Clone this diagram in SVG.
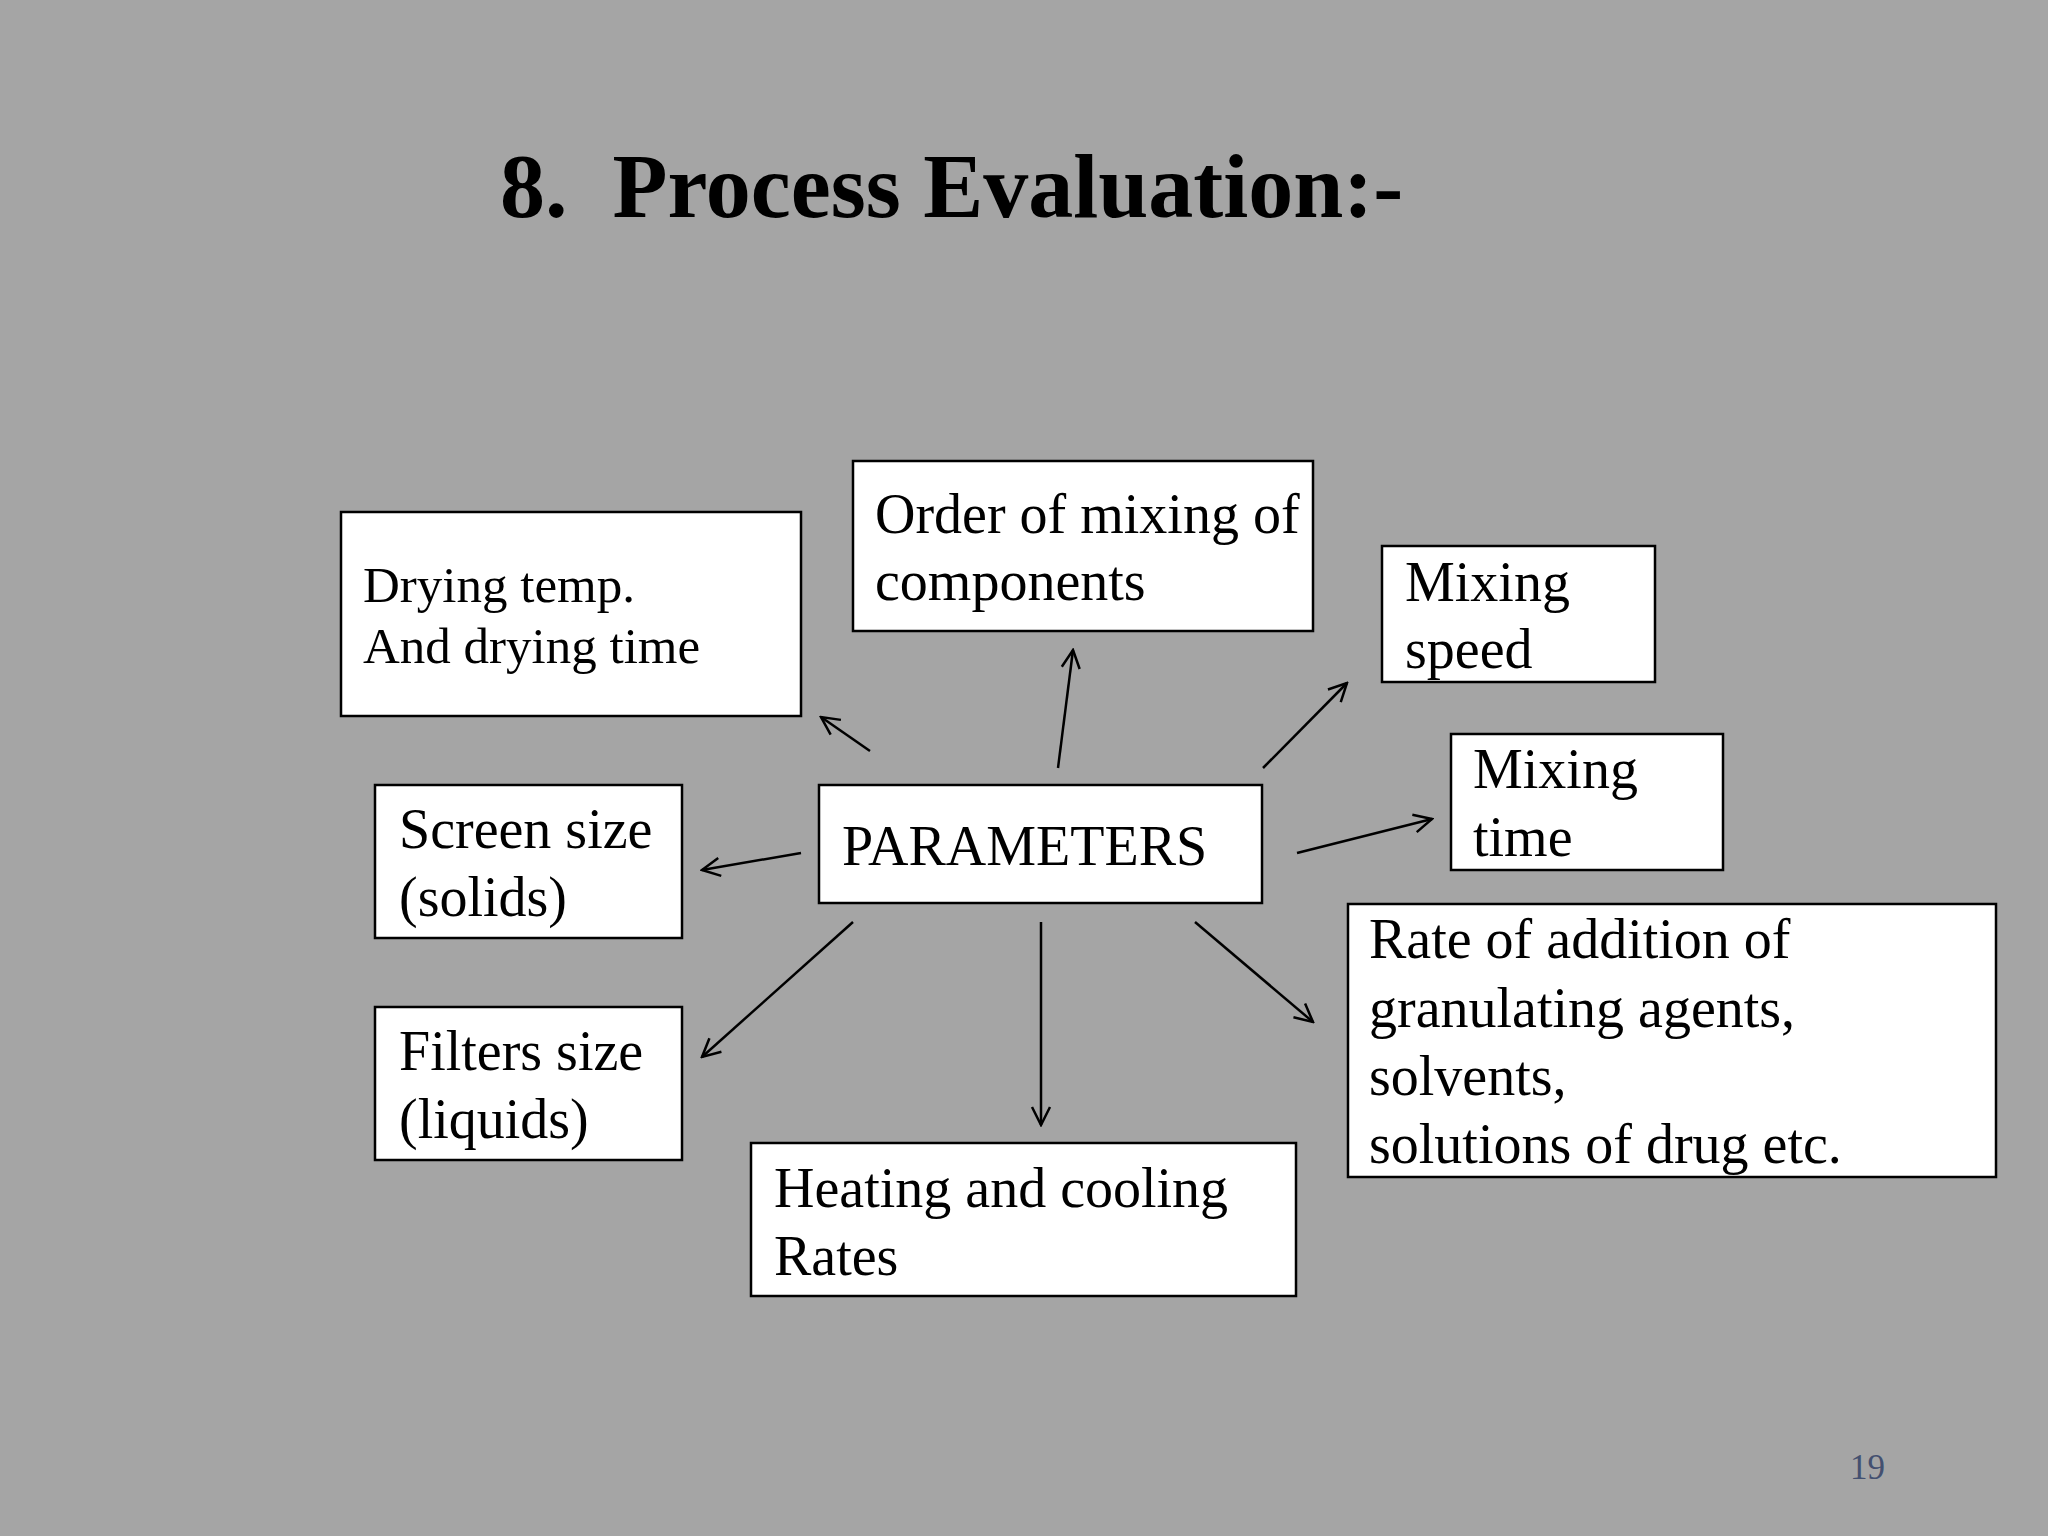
<svg xmlns="http://www.w3.org/2000/svg" width="2048" height="1536" viewBox="0 0 2048 1536">
<style>
.box{fill:#fff;stroke:#000;stroke-width:2.5}
.t{font-family:"Liberation Serif","Times New Roman",serif;font-size:56px;fill:#000}
.c{stroke:#000;stroke-width:2.5;fill:none}
</style>
<defs>
<marker id="ah" markerUnits="userSpaceOnUse" viewBox="0 0 24 24" refX="22" refY="12" markerWidth="24" markerHeight="24" orient="auto">
<path d="M4,3 L22,12 L4,21" fill="none" stroke="#000" stroke-width="2.5"/>
</marker>
</defs>
<rect width="2048" height="1536" fill="#a5a5a5"/>
<text x="500" y="217" font-family="'Liberation Serif','Times New Roman',serif" font-size="90" font-weight="bold" xml:space="preserve">8.  Process Evaluation:-</text>
<g id="drying"><rect class="box" x="341" y="512" width="460" height="204"/><text class="t" style="font-size:51px"><tspan x="363" y="602">Drying temp.</tspan><tspan x="363" y="663">And drying time</tspan></text></g>
<g id="order"><rect class="box" x="853" y="461" width="460" height="170"/><text class="t"><tspan x="875" y="533">Order of mixing of</tspan><tspan x="875" y="600">components</tspan></text></g>
<g id="speed"><rect class="box" x="1382" y="546" width="273" height="136"/><text class="t"><tspan x="1405" y="601">Mixing</tspan><tspan x="1405" y="668">speed</tspan></text></g>
<g id="mtime"><rect class="box" x="1451" y="734" width="272" height="136"/><text class="t"><tspan x="1473" y="788">Mixing</tspan><tspan x="1473" y="856">time</tspan></text></g>
<g id="params"><rect class="box" x="819" y="785" width="443" height="118"/><text class="t" x="842" y="865">PARAMETERS</text></g>
<g id="screen"><rect class="box" x="375" y="785" width="307" height="153"/><text class="t"><tspan x="399" y="848">Screen size</tspan><tspan x="399" y="916">(solids)</tspan></text></g>
<g id="filters"><rect class="box" x="375" y="1007" width="307" height="153"/><text class="t"><tspan x="399" y="1070">Filters size</tspan><tspan x="399" y="1138">(liquids)</tspan></text></g>
<g id="heating"><rect class="box" x="751" y="1143" width="545" height="153"/><text class="t"><tspan x="774" y="1207">Heating and cooling</tspan><tspan x="774" y="1275">Rates</tspan></text></g>
<g id="rate"><rect class="box" x="1348" y="904" width="648" height="273"/><text class="t"><tspan x="1369" y="958">Rate of addition of</tspan><tspan x="1369" y="1027">granulating agents,</tspan><tspan x="1369" y="1095">solvents,</tspan><tspan x="1369" y="1163">solutions of drug etc.</tspan></text></g>
<g id="connectors">
<line class="c" x1="870" y1="751" x2="821" y2="717" marker-end="url(#ah)"/>
<line class="c" x1="1058" y1="768" x2="1073" y2="650" marker-end="url(#ah)"/>
<line class="c" x1="1263" y1="768" x2="1347" y2="683" marker-end="url(#ah)"/>
<line class="c" x1="1297" y1="853" x2="1432" y2="819" marker-end="url(#ah)"/>
<line class="c" x1="801" y1="853" x2="702" y2="870" marker-end="url(#ah)"/>
<line class="c" x1="853" y1="922" x2="702" y2="1057" marker-end="url(#ah)"/>
<line class="c" x1="1041" y1="922" x2="1041" y2="1125" marker-end="url(#ah)"/>
<line class="c" x1="1195" y1="922" x2="1313" y2="1022" marker-end="url(#ah)"/>
</g>
<text x="1850" y="1479" font-family="'Liberation Serif','Times New Roman',serif" font-size="35" fill="#435070">19</text>
</svg>
